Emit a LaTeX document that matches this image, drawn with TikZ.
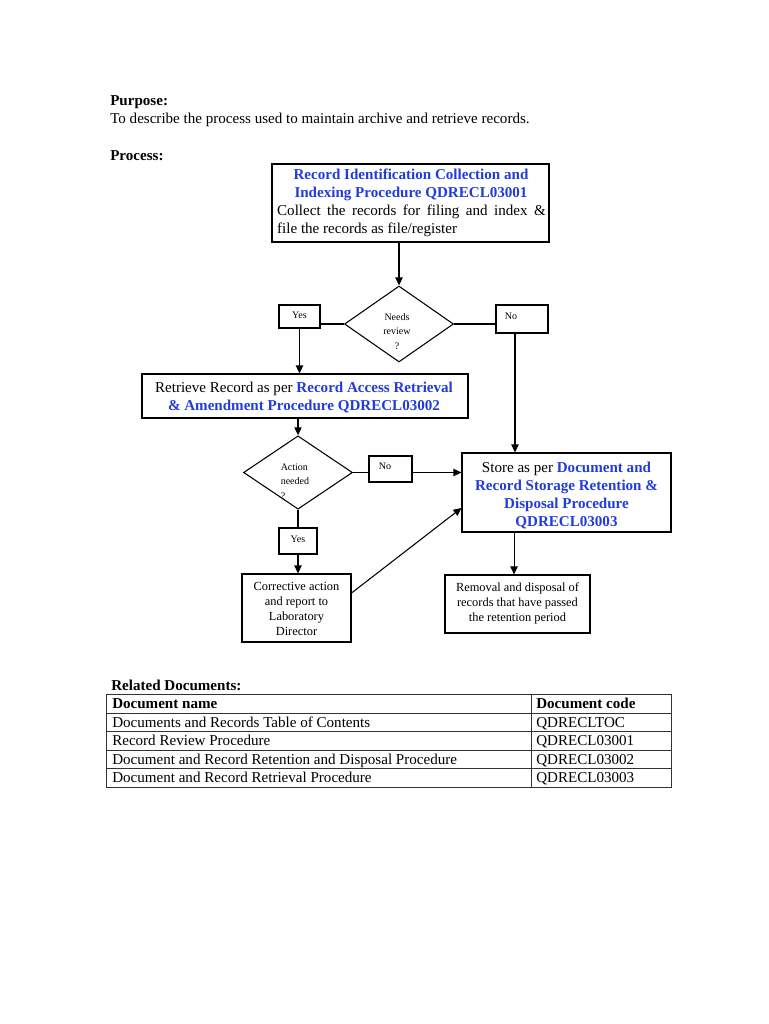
\documentclass[tikz,border=0pt]{standalone}
\usepackage{fontspec}
\setmainfont{Liberation Serif}
\usetikzlibrary{arrows.meta,fit,shapes.geometric}
\definecolor{procblue}{RGB}{34,60,220}
\begin{document}
\begin{tikzpicture}[x=0.75pt,y=-0.75pt,
  box/.style={draw, line width=0.8pt, inner sep=0pt},
  dia/.style={diamond, draw, line width=0.8pt, inner sep=0pt},
  big/.style={font=\fontsize{11.3}{13.5}\selectfont, inner sep=0pt, align=center},
  mid/.style={font=\fontsize{9.3}{11.1}\selectfont, inner sep=0pt, align=center},
  small/.style={font=\fontsize{7.5}{10.6}\selectfont, inner sep=0pt},
  conn/.style={line width=0.8pt},
  arr/.style={line width=0.8pt, -{Triangle[length=6pt,width=5.5pt]}},
  tline/.style={line width=0.7pt, draw=black!80},
  cell/.style={font=\fontsize{11.3}{13.5}\selectfont, inner sep=0pt, anchor=base west}
]
\useasboundingbox[fill=white] (0,0) rectangle (768,1024);

% headings
\node[big, anchor=west, font=\fontsize{11.3}{13.5}\selectfont\bfseries] (purp) at (110,102) {Purpose:};
\node[big, anchor=west] (purpt) at (110,120) {To describe the process used to maintain archive and retrieve records.};
\node[big, anchor=west, font=\fontsize{11.3}{13.5}\selectfont\bfseries] (proc) at (110,156) {Process:};

% box 1
\node[box, fit={(272,164)(549,242)}] (b1) {};
\node[big, text=procblue, font=\fontsize{11.3}{13.5}\selectfont\bfseries] (b1t) at (411,185) {Record Identification Collection and\\Indexing Procedure QDRECL03001};
\node[big, align=justify, text width=201.5pt, font=\fontsize{11.3}{13.2}\selectfont] (b1b) at (411.5,221) {Collect the records for filing and index \&\linebreak file the records as file/register};

% needs review diamond
\node[dia, minimum width=81.75pt, minimum height=57pt] (nr) at (399,324) {};
\node[small, align=center] (nrt) at (397,331.5) {Needs\\review\\?};

% yes / no boxes 1
\node[box, fit={(279,305)(320,328)}] (yes1) {};
\node[small] (yes1t) at (299.5,315.5) {Yes};
\node[box, fit={(496,305)(548,333)}] (no1) {};
\node[small] (no1t) at (511,316) {No};

% retrieve box
\node[box, fit={(142,374)(468,418)}] (ret) {};
\node[big, font=\fontsize{11.3}{14}\selectfont] (rett) at (304,397.5) {Retrieve Record as per \textcolor{procblue}{\bfseries Record Access Retrieval}\\\textcolor{procblue}{\bfseries \& Amendment Procedure QDRECL03002}};

% action needed diamond
\node[dia, minimum width=81.75pt, minimum height=55pt] (ad) at (298,472.5) {};
\node[small, align=left, anchor=west, font=\fontsize{7.5}{10.9}\selectfont] (adt) at (280.5,481.5) {Action\\needed\\?};

% no box 2
\node[box, fit={(369,456)(412,482)}] (no2) {};
\node[small] (no2t) at (385,466) {No};

% store box
\node[box, fit={(462,453)(671,532)}] (st) {};
\node[big, font=\fontsize{11.3}{13.5}\selectfont] (stt) at (566.5,495.5) {Store as per \textcolor{procblue}{\bfseries Document and}\\\textcolor{procblue}{\bfseries Record Storage Retention \&}\\\textcolor{procblue}{\bfseries Disposal Procedure}\\\textcolor{procblue}{\bfseries QDRECL03003}};

% yes box 2
\node[box, fit={(279,528)(317,554)}] (yes2) {};
\node[small] (yes2t) at (298,539) {Yes};

% corrective box
\node[box, fit={(242,574)(351,642)}] (cor) {};
\node[mid, font=\fontsize{9.3}{11.1}\selectfont] (cort) at (296.5,609) {Corrective action\\and report to\\Laboratory\\Director};

% removal box
\node[box, fit={(445,575)(590,633)}] (rem) {};
\node[mid, font=\fontsize{9.3}{11.3}\selectfont] (remt) at (517.5,603.5) {Removal and disposal of\\records that have passed\\the retention period};

% connectors
\draw[arr] (b1.south -| nr.north) -- (nr.north);
\draw[conn] (nr.west) -- (yes1.east |- nr.west);
\draw[conn] (nr.east) -- (no1.west |- nr.east);
\draw[arr] (yes1.south) -- (yes1.south |- ret.north);
\draw[arr] ([xshift=-5.25pt]no1.south) -- ([xshift=-5.25pt]no1.south |- st.north);
\draw[arr] (ret.south -| ad.north) -- (ad.north);
\draw[conn] (ad.east) -- (no2.west |- ad.east);
\draw[arr] (no2.east |- ad.east) -- (st.west |- ad.east);
\draw[conn] (ad.south) -- (yes2.north);
\draw[arr] (yes2.south) -- (cor.north -| yes2.south);
\draw[arr] ([yshift=11.25pt]cor.east) -- ([yshift=-11.6pt]st.west);
\draw[arr] ([xshift=-2.6pt]rem.north |- st.south) -- ([xshift=-2.6pt]rem.north);

% related documents table
\node[big, anchor=west, font=\fontsize{11.3}{13.5}\selectfont\bfseries] (rel) at (111,685) {Related Documents:};
\draw[tline] (106,694) rectangle (671,787);
\foreach \yy in {713,731,750,768} \draw[tline] (106,\yy) -- (671,\yy);
\draw[tline] (531,694) -- (531,787);
\node[cell, font=\fontsize{11.3}{13.5}\selectfont\bfseries] (h1) at (112,708.5) {Document name};
\node[cell, font=\fontsize{11.3}{13.5}\selectfont\bfseries] (h2) at (536,708.5) {Document code};
\node[cell] (r1a) at (112,727) {Documents and Records Table of Contents};
\node[cell] (r1b) at (536,727) {QDRECLTOC};
\node[cell] (r2a) at (112,745.5) {Record Review Procedure};
\node[cell] (r2b) at (536,745.5) {QDRECL03001};
\node[cell] (r3a) at (112,764) {Document and Record Retention and Disposal Procedure};
\node[cell] (r3b) at (536,764) {QDRECL03002};
\node[cell] (r4a) at (112,782.5) {Document and Record Retrieval Procedure};
\node[cell] (r4b) at (536,782.5) {QDRECL03003};
\end{tikzpicture}
\end{document}
